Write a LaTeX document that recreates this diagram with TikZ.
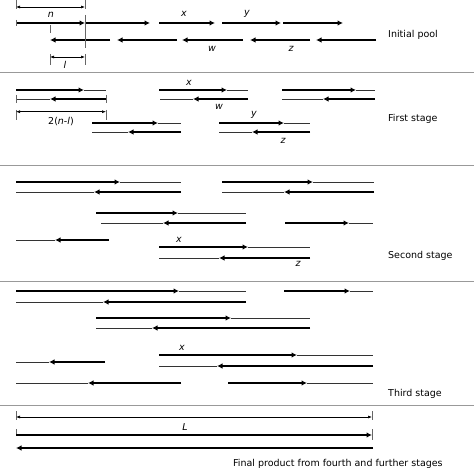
\documentclass[tikz,border=0pt]{standalone}
\usepackage{fontspec}
\setmainfont{DejaVu Sans}
\usetikzlibrary{arrows.meta}
\newcommand\sF[4]{\draw[thickln,tip] (#2,#1) -- (#3,#1);\draw[thinln] (#3,#1) -- (#4,#1);}
\newcommand\sR[4]{\draw[thinln] (#2,#1) -- (#3,#1);\draw[thickln,tip] (#4,#1) -- (#3,#1);}
\begin{document}
\begin{tikzpicture}[x=1pt,y=-1pt,
 thickln/.style={line width=2.4pt,black},
 thinln/.style={line width=0.9pt,black!80},
 tip/.style={-{Latex[length=5.5pt,width=5.5pt]}},
 sepln/.style={line width=1pt,black!40},
 dimln/.style={line width=0.6pt,{Latex[length=4pt,width=3pt]}-{Latex[length=4pt,width=3pt]}},
 tickln/.style={line width=0.6pt,black!60},
 lab/.style={font=\fontsize{9.5}{11}\selectfont\itshape,inner sep=0pt},
 stage/.style={font=\fontsize{9.5}{11}\selectfont,inner sep=0pt,anchor=base west}]
\fill[white] (0,0) rectangle (474,470);
\useasboundingbox (0,0) rectangle (474,470);
% separators
\foreach \yy in {72.5,166,281.5,405} \draw[sepln] (0,\yy) -- (474,\yy);
% ---------- Initial pool
\draw[tickln] (16,0) -- (16,9); \draw[tickln] (85,0) -- (85,9);
\draw[dimln] (16,7) -- (85,7);
\node[lab] (ln) at (51,15) {n};
\foreach \a/\b in {16/85,86/150,159/215,222/281,283/343} \draw[thickln,tip] (\a,23) -- (\b,23);
\foreach \a/\b in {50/110,117/177,182/243,250/310,316/376} \draw[thickln,tip] (\b,40) -- (\a,40);
\draw[tickln] (16,20) -- (16,26);
\draw[tickln] (85,15) -- (85,48);
\draw[tickln] (50,25) -- (50,33);
\draw[tickln] (50,54) -- (50,65); \draw[tickln] (85,54) -- (85,65);
\draw[dimln] (50,57) -- (85,57);
\node[lab] (ll) at (65,65) {l};
\node[lab] (lx0) at (184,14) {x};
\node[lab] (ly0) at (247,14) {y};
\node[lab] (lw0) at (212,49) {w};
\node[lab] (lz0) at (291,49) {z};
\node[stage] (s0) at (388,38) {Initial pool};
% ---------- First stage
\sF{90}{16}{84}{106} \sF{90}{159}{227}{248} \sF{90}{282}{356}{375}
\sR{99}{16}{50}{106} \sR{99}{160}{193}{248} \sR{99}{282}{323}{375}
\sF{123}{92}{158}{181} \sF{123}{219}{284}{310}
\sR{132}{92}{128}{181} \sR{132}{219}{252}{310}
\draw[tickln] (16,95) -- (16,103); \draw[tickln] (106,95) -- (106,103);
\draw[tickln] (16,110) -- (16,120); \draw[tickln] (106,110) -- (106,120);
\draw[dimln] (16,111.7) -- (106,111.7);
\node[lab,font=\fontsize{9.5}{11}\selectfont] (l2) at (61,122) {2(\textit{n}-\textit{l})};
\node[lab] (lx1) at (189,83) {x};
\node[lab] (lw1) at (219,107) {w};
\node[lab] (ly1) at (254,115) {y};
\node[lab] (lz1) at (283,141) {z};
\node[stage] (s1) at (388,122) {First stage};
% ---------- Second stage
\sF{182}{16}{120}{181} \sF{182}{222}{313}{374}
\sR{192}{16}{94}{181} \sR{192}{222}{284}{374}
\sF{213}{96}{178}{246}
\sR{223}{101}{163}{246} \sF{223}{285}{349}{373}
\sR{240}{16}{55}{109}
\sF{247}{159}{248}{310}
\sR{258}{159}{219}{310}
\node[lab] (lx2) at (179,240) {x};
\node[lab] (lz2) at (298,264) {z};
\node[stage] (s2) at (388,258.5) {Second stage};
% ---------- Third stage
\sF{291}{16}{179}{246} \sF{291}{284}{350}{373}
\sR{302}{16}{103}{246}
\sF{318}{96}{231}{310}
\sR{328}{96}{152}{310}
\sF{355}{159}{297}{373}
\sR{362}{16}{49}{105}
\sR{366}{159}{217}{373}
\sR{383}{16}{88}{181} \sF{383}{228}{307}{373}
\node[lab] (lx3) at (182,348) {x};
\node[stage] (s3) at (388,396) {Third stage};
% ---------- Final
\draw[tickln] (16,411) -- (16,420); \draw[tickln] (372,411) -- (372,420);
\draw[dimln] (16,417) -- (372,417);
\node[lab] (lL) at (185,427) {L};
\draw[tickln] (16,429) -- (16,436); \draw[tickln] (372,429) -- (372,440);
\draw[thickln,tip] (16,435) -- (372,435);
\draw[thickln,tip] (373,448) -- (16,448);
\node[stage] (s4) at (233,466) {Final product from fourth and further stages};
\end{tikzpicture}
\end{document}
